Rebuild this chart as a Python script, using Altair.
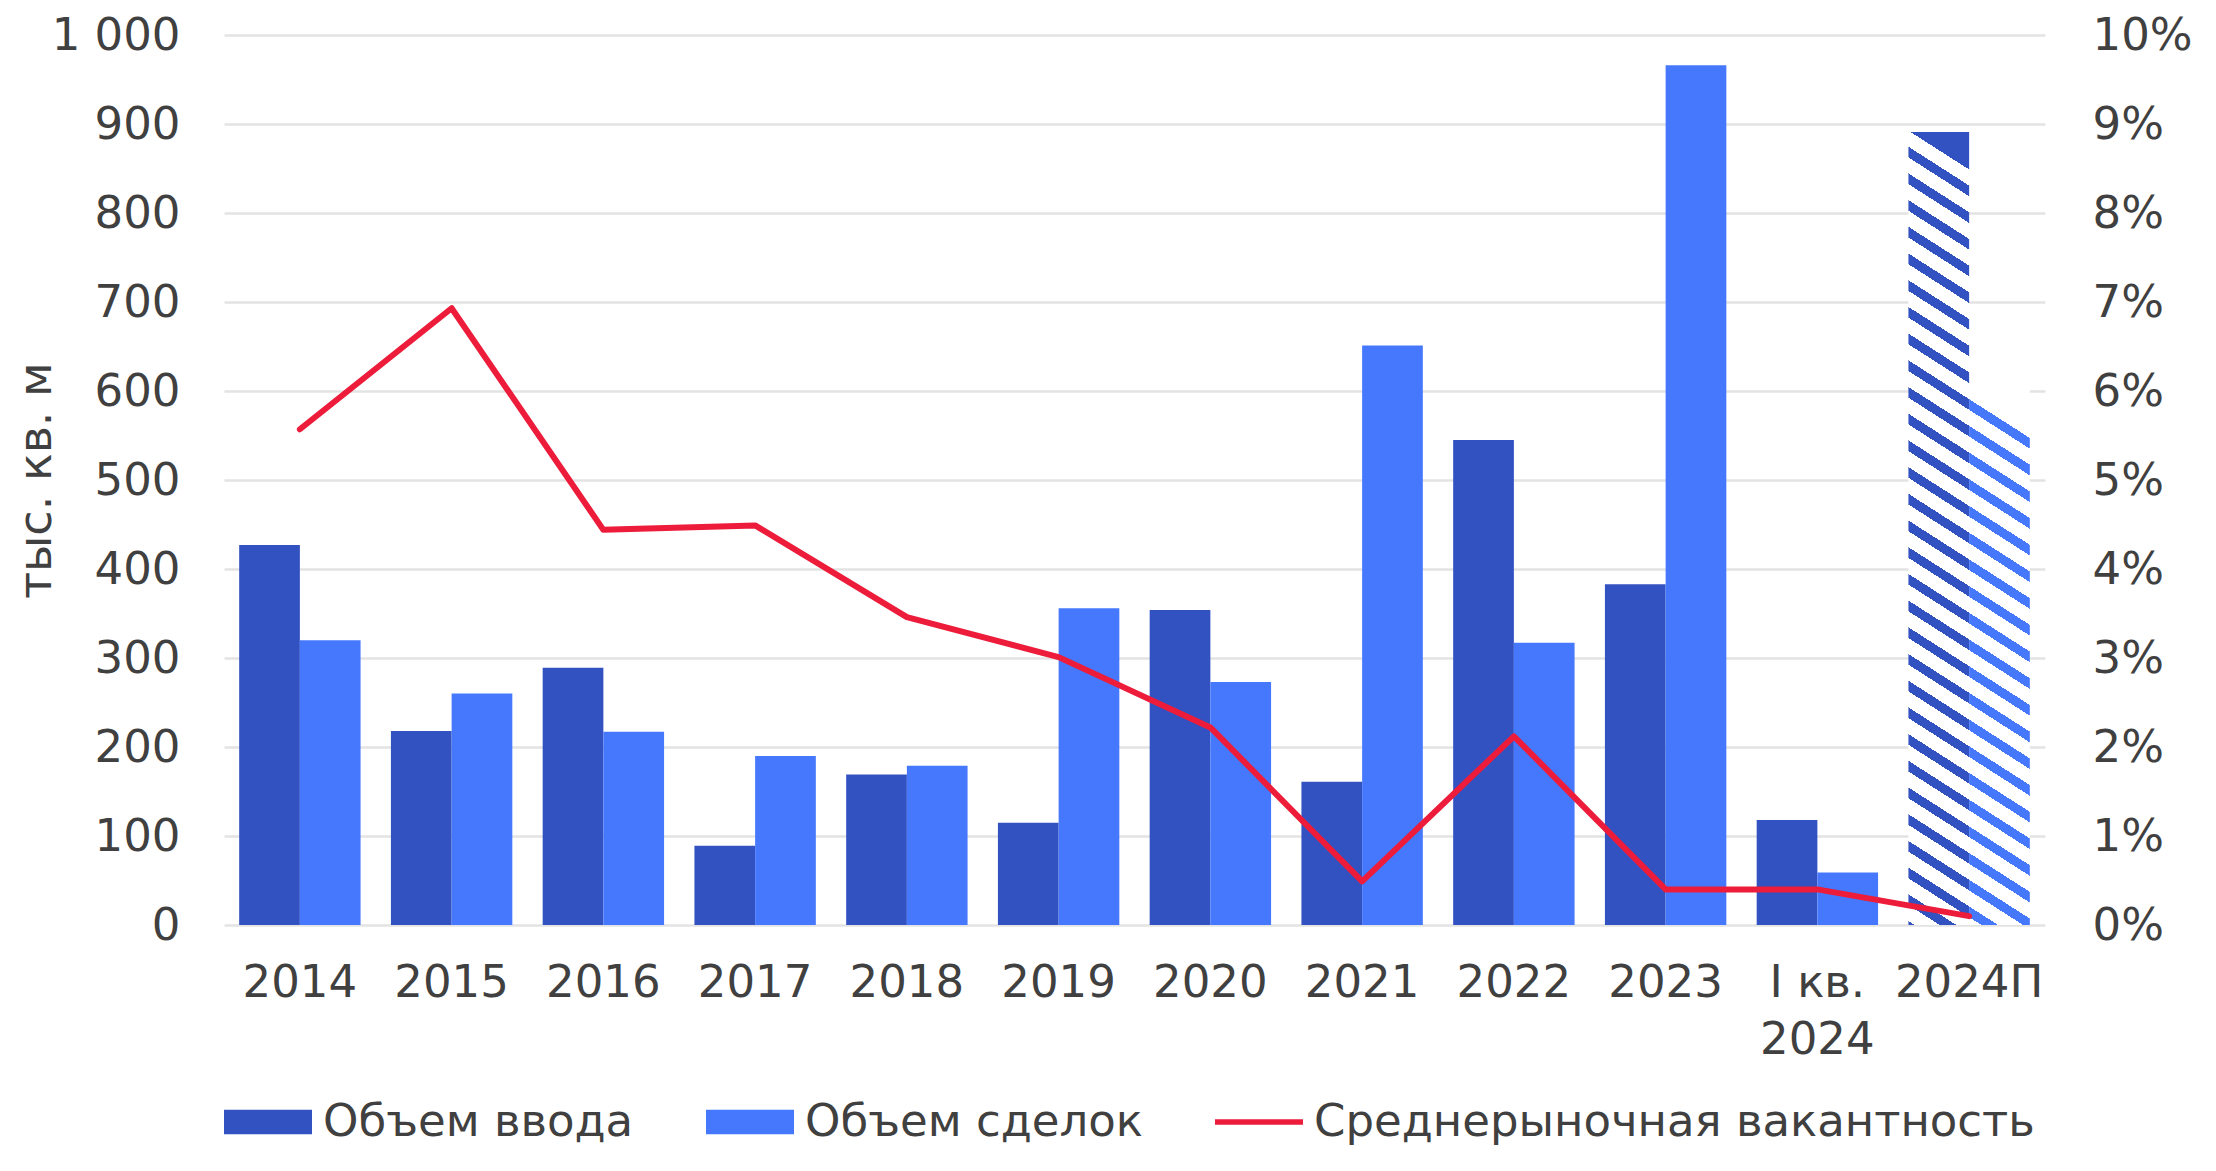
import math
import altair as alt
import pandas as pd

# ---------------- data ----------------
categories = ["2014", "2015", "2016", "2017", "2018", "2019", "2020",
              "2021", "2022", "2023", "I кв. 2024", "2024П"]
vvod = [427, 218, 289, 89, 169, 115, 354, 161, 545, 383, 118, 891]
sdelki = [320, 260, 217, 190, 179, 356, 273, 651, 317, 966, 59, 603]
vacancy = [5.57, 6.93, 4.44, 4.49, 3.46, 3.01, 2.22, 0.49, 2.12, 0.40, 0.40, 0.10]
series_names = ["Объем ввода", "Объем сделок", "Среднерыночная вакантность"]
forecast_cat = "2024П"

# ---------------- style ----------------
DARK = "#3352C1"
LIGHT = "#4678FE"
RED = "#EC1C3A"
TEXT = "#404040"
GRID = "#E3E3E3"
FONT = "DejaVu Sans"
FS = 45
LEG_FS = 45

PLOT_W = 1821
PLOT_H = 890
PAD_INNER = 0.2
PAD_OUTER = 0.1
STEP = PLOT_W / len(categories)
BAR_W = STEP * (1 - PAD_INNER) / 2
STRIPE_PERIOD = 26.7
STRIPE_SLOPE = 0.64
STRIPE_FILL = 0.40


def hatch(color, value, phase):
    h = value / 1000 * PLOT_H
    k = STRIPE_SLOPE * BAR_W / h
    n = h * (1 + k * k) / STRIPE_PERIOD
    bounds = []
    j = math.floor(phase) - 1
    while j < phase + n + 1:
        bounds.append((j, color))
        bounds.append((j + STRIPE_FILL, "#ffffff"))
        j += 1

    def col_at(p):
        c = "#ffffff"
        for b, bc in bounds:
            if b <= p:
                c = bc
        return c

    stops = [{"offset": 0, "color": col_at(phase)}]
    prev = col_at(phase)
    for b, bc in bounds:
        if phase < b < phase + n:
            off = (b - phase) / n
            stops.append({"offset": off, "color": prev})
            stops.append({"offset": off, "color": bc})
            prev = bc
    stops.append({"offset": 1, "color": prev})
    return {"gradient": "linear", "x1": 0, "y1": 1, "x2": k, "y2": 0, "stops": stops}


rows = []
for c, a, b in zip(categories, vvod, sdelki):
    rows.append({"cat": c, "series": series_names[0], "value": a})
    rows.append({"cat": c, "series": series_names[1], "value": b})
bars_df = pd.DataFrame(rows)
line_df = pd.DataFrame({"cat": categories, "vac": vacancy})

x_axis = alt.Axis(title=None, labelAngle=0, labelFontSize=FS, labelFont=FONT,
                  labelColor=TEXT, domain=False, ticks=False, labelPadding=57,
                  labelLineHeight=57, labelBaseline="middle",
                  labelExpr="datum.value == 'I кв. 2024' ? ['I кв.', '2024'] : datum.label")
x_enc = alt.X("cat:N", sort=categories,
              scale=alt.Scale(domain=categories, paddingInner=PAD_INNER, paddingOuter=PAD_OUTER),
              axis=x_axis)
xoff = alt.XOffset("series:N", scale=alt.Scale(domain=series_names[:2], paddingInner=0, paddingOuter=0))
y_scale = alt.Scale(domain=[0, 1000], nice=False)
y_axis = alt.Axis(values=list(range(0, 1001, 100)),
                  labelExpr="replace(format(datum.value, ','), ',', ' ')",
                  title="тыс. кв. м", titleFontSize=46, titleFont=FONT, titleFontWeight="normal",
                  titleColor=TEXT, titlePadding=-9,
                  labelFontSize=FS, labelFont=FONT, labelColor=TEXT, labelPadding=44,
                  domain=False, ticks=False, grid=True, gridColor=GRID, gridWidth=2.5)

shape_expr = ("datum.value === 'Среднерыночная вакантность' ? "
              "'M-1,-0.065H1V0.065H-1Z' : 'M-1,-0.28H1V0.28H-1Z'")

main_bars = alt.Chart(bars_df).transform_filter(
    alt.datum.cat != forecast_cat
).mark_bar(strokeWidth=0).encode(
    x=x_enc,
    xOffset=xoff,
    y=alt.Y("value:Q", scale=y_scale, axis=y_axis),
    color=alt.Color("series:N",
                    scale=alt.Scale(domain=series_names, range=[DARK, LIGHT, RED]),
                    legend=alt.Legend(
                        title=None, orient="bottom", direction="horizontal",
                        labelFontSize=LEG_FS, labelFont=FONT, labelColor=TEXT,
                        symbolSize=7744, symbolStrokeWidth=0, labelOffset=11,
                        columnPadding=72, offset=16, labelLimit=1000,
                        symbolType={"expr": shape_expr},
                    )),
)

# stripe phases: dark bar starts a stripe near its top-left corner, light bar continues it
phase_dark = (0.95 - vvod[-1] / 1000 * PLOT_H / STRIPE_PERIOD) % 1.0
phase_light = phase_dark + STRIPE_SLOPE * BAR_W / STRIPE_PERIOD
fc_dark = alt.Chart(bars_df).transform_filter(
    (alt.datum.cat == forecast_cat) & (alt.datum.series == series_names[0])
).mark_bar(fill=hatch(DARK, vvod[-1], phase_dark), strokeWidth=0).encode(
    x=x_enc, xOffset=xoff,
    y=alt.Y("value:Q", scale=y_scale, axis=y_axis),
)
fc_light = alt.Chart(bars_df).transform_filter(
    (alt.datum.cat == forecast_cat) & (alt.datum.series == series_names[1])
).mark_bar(fill=hatch(LIGHT, sdelki[-1], phase_light), strokeWidth=0).encode(
    x=x_enc, xOffset=xoff,
    y=alt.Y("value:Q", scale=y_scale, axis=y_axis),
)

bars = alt.layer(main_bars, fc_dark, fc_light)

line = alt.Chart(line_df).mark_line(color=RED, strokeWidth=6, strokeCap="round",
                                    strokeJoin="round").encode(
    x=x_enc,
    y=alt.Y("vac:Q", scale=alt.Scale(domain=[0, 10], nice=False),
            axis=alt.Axis(orient="right", values=list(range(0, 11)),
                          labelExpr="datum.value + '%'", title=None,
                          labelFontSize=FS, labelFont=FONT, labelColor=TEXT,
                          labelPadding=47, domain=False, ticks=False, grid=False)),
)

chart = alt.layer(bars, line).resolve_scale(y="independent").properties(
    width=PLOT_W, height=PLOT_H, padding={"left": 5, "top": 5, "right": 2, "bottom": 2}
).configure(background="white").configure_view(strokeWidth=0)

chart.save("out.html", embed_options={"renderer": "svg", "actions": False})
